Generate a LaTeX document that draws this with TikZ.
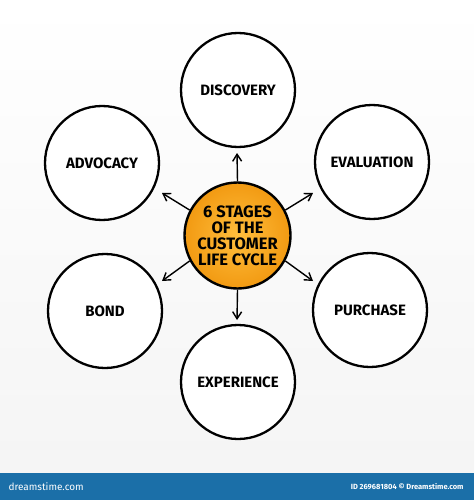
\documentclass[tikz,border=0pt]{standalone}
\usepackage{fontspec}
\setmainfont{Fira Sans}
\usetikzlibrary{arrows.meta}
\definecolor{barblue}{HTML}{1B6FA8}
\definecolor{orin}{HTML}{FFBE3D}
\definecolor{orout}{HTML}{F29A12}
\begin{document}
\begin{tikzpicture}[x=1pt,y=-1pt,
  stage/.style={circle,draw=black,line width=2.3pt,minimum size=114pt,fill=white,
    font=\fontsize{15}{17}\selectfont\bfseries},
  hub/.style={circle,draw=black,line width=2.4pt,minimum size=106pt,inner sep=0pt,
    inner color=orin,outer color=orout,align=center,
    font=\fontsize{16.5}{16}\selectfont\bfseries},
  arr/.style={line width=1.4pt,-{Straight Barb[length=7pt,width=9pt]}},
  foot/.style={text=white,font=\fontsize{9}{10}\selectfont}]
\useasboundingbox (0,0) rectangle (474,500);
\shade[top color=white,bottom color=gray!8] (0,0) rectangle (474,473);
\fill[barblue] (0,473) rectangle (474,500);
\node[foot,anchor=west,font=\fontsize{10}{12}\selectfont] (brand) at (5,487) {dreamstime.com};
\node[foot,anchor=east,font=\fontsize{7.5}{10}\selectfont\bfseries] (idtext) at (467,487) {ID 269681804 \textcopyright{} Dreamstime.com};
\node[hub] (hub) at (237.5,235.5) {6 STAGES\\OF THE\\CUSTOMER\\LIFE CYCLE};
\node[stage] (disc) at (238,90) {DISCOVERY};
\node[stage] (eval) at (372,162) {EVALUATION};
\node[stage] (purch) at (370,310) {PURCHASE};
\node[stage] (exper) at (238,382) {EXPERIENCE};
\node[stage] (bond) at (105,311) {BOND};
\node[stage] (advo) at (102,163) {ADVOCACY};
\coordinate (tDisc) at (237,153);
\coordinate (tEval) at (313,193);
\coordinate (tPurch) at (313,281);
\coordinate (tExper) at (237,320);
\coordinate (tBond) at (162,281);
\coordinate (tAdvo) at (162,193);
\draw[arr] (hub.90) -- (tDisc);
\draw[arr] (hub.28) -- (tEval);
\draw[arr] (hub.-28) -- (tPurch);
\draw[arr] (hub.-90) -- (tExper);
\draw[arr] (hub.208) -- (tBond);
\draw[arr] (hub.152) -- (tAdvo);
\end{tikzpicture}
\end{document}
